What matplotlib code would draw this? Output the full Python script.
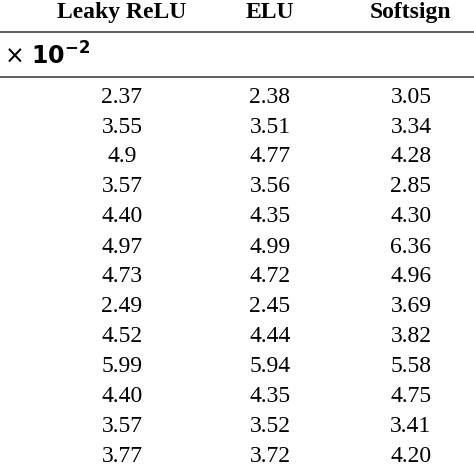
import matplotlib.pyplot as plt

columns = ['Leaky ReLU', 'ELU', 'Softsign']
leaky = ['2.37', '3.55', '4.9', '3.57', '4.40', '4.97', '4.73', '2.49', '4.52', '5.99', '4.40', '3.57', '3.77']
elu = ['2.38', '3.51', '4.77', '3.56', '4.35', '4.99', '4.72', '2.45', '4.44', '5.94', '4.35', '3.52', '3.72']
softsign = ['3.05', '3.34', '4.28', '2.85', '4.30', '6.36', '4.96', '3.69', '3.82', '5.58', '4.75', '3.41', '4.20']

fig = plt.figure(figsize=(4.74, 4.74), dpi=100)
ax = fig.add_axes([0, 0, 1, 1])
ax.set_xlim(0, 474)
ax.set_ylim(474, 0)
ax.axis('off')

font = 'Liberation Serif'
xs = [122, 270, 411]
for x, name in zip(xs, columns):
    ax.text(x, 12, name, ha='center', va='center', fontsize=17, fontweight='bold', family=font)
ax.plot([0, 474], [32, 32], color='#444444', lw=1.2)
ax.text(4, 56, r'$\times\ \mathbf{10^{-2}}$', ha='left', va='center', fontsize=17)
ax.plot([0, 474], [77, 77], color='#444444', lw=1.2)

for i, vals in enumerate(zip(leaky, elu, softsign)):
    y = 97 + i * 30
    for x, v in zip(xs, vals):
        ax.text(x, y, v, ha='center', va='center', fontsize=17, family=font)

fig.savefig('out.png', dpi=100, facecolor='white')
